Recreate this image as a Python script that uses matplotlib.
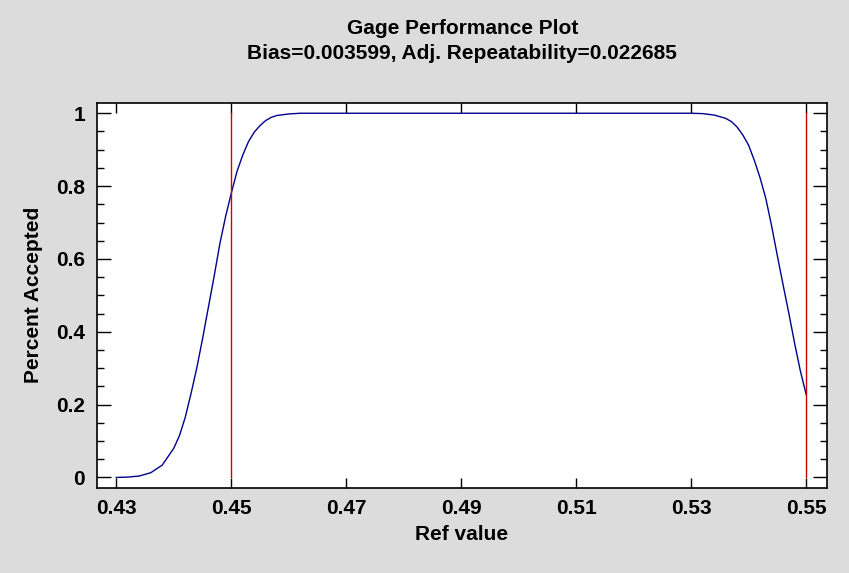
import matplotlib
matplotlib.use("Agg")
import matplotlib.pyplot as plt
from matplotlib.ticker import MultipleLocator

# values
ref_value = [0.430, 0.432, 0.434, 0.436, 0.438, 0.440, 0.441, 0.442, 0.443,
             0.444, 0.445, 0.446, 0.447, 0.448, 0.449, 0.450, 0.451, 0.452,
             0.453, 0.454, 0.455, 0.456, 0.457, 0.458, 0.460, 0.462, 0.470,
             0.490, 0.510, 0.530, 0.532, 0.534, 0.536, 0.537, 0.538, 0.539,
             0.540, 0.541, 0.542, 0.543, 0.544, 0.545, 0.546, 0.547, 0.548,
             0.549, 0.550]
pct_accepted = [0.000, 0.001, 0.004, 0.013, 0.034, 0.080, 0.115, 0.165, 0.230,
                0.300, 0.380, 0.465, 0.550, 0.640, 0.715, 0.780, 0.840, 0.885,
                0.922, 0.948, 0.966, 0.980, 0.989, 0.994, 0.998, 1.000, 1.000,
                1.000, 1.000, 1.000, 0.999, 0.995, 0.986, 0.977, 0.962, 0.940,
                0.912, 0.870, 0.822, 0.765, 0.690, 0.608, 0.528, 0.450, 0.368,
                0.292, 0.228]
spec_limits = [0.45, 0.55]
x_ticks = [0.43, 0.45, 0.47, 0.49, 0.51, 0.53, 0.55]
title = "Gage Performance Plot\nBias=0.003599, Adj. Repeatability=0.022685"

plt.rcParams['font.family'] = ['Liberation Sans', 'DejaVu Sans']
plt.rcParams['font.weight'] = 'bold'

bg = '#dcdcdc'
fig = plt.figure(figsize=(8.49, 5.73), dpi=100, facecolor=bg)
ax = fig.add_axes([0.1139, 0.1483, 0.86, 0.6725])
ax.set_facecolor('white')

ax.plot(ref_value, pct_accepted, color='#00008c', lw=1)
for lim in spec_limits:
    ax.plot([lim, lim], [0, 1], color='#cc0000', lw=1)

ax.set_xlim(0.4266, 0.5536)
ax.set_ylim(-0.029, 1.029)
ax.set_xticks(x_ticks)
ax.set_xticklabels([f"{v:.2f}" for v in x_ticks])
ax.yaxis.set_major_locator(MultipleLocator(0.2))
ax.yaxis.set_minor_locator(MultipleLocator(0.05))
ax.yaxis.set_major_formatter(plt.FuncFormatter(lambda v, p: f"{v:g}"))

fs = 15
ax.tick_params(axis='x', which='major', direction='in', top=True, length=7,
               width=1, pad=8, labelsize=fs)
ax.tick_params(axis='y', which='major', direction='in', right=True, length=10,
               width=1, pad=8.5, labelsize=fs)
ax.tick_params(axis='y', which='minor', direction='in', right=True, length=5,
               width=1)
for s in ax.spines.values():
    s.set_linewidth(1.2)

ax.set_xlabel("Ref value", fontsize=fs, fontweight='bold', labelpad=5)
ax.set_ylabel("Percent Accepted", fontsize=fs, fontweight='bold', labelpad=9)
fig.text(0.5445, 0.928, title, ha='center', va='center', fontsize=fs,
         fontweight='bold', linespacing=1.4)

fig.savefig("out.png", dpi=100, facecolor=bg)
